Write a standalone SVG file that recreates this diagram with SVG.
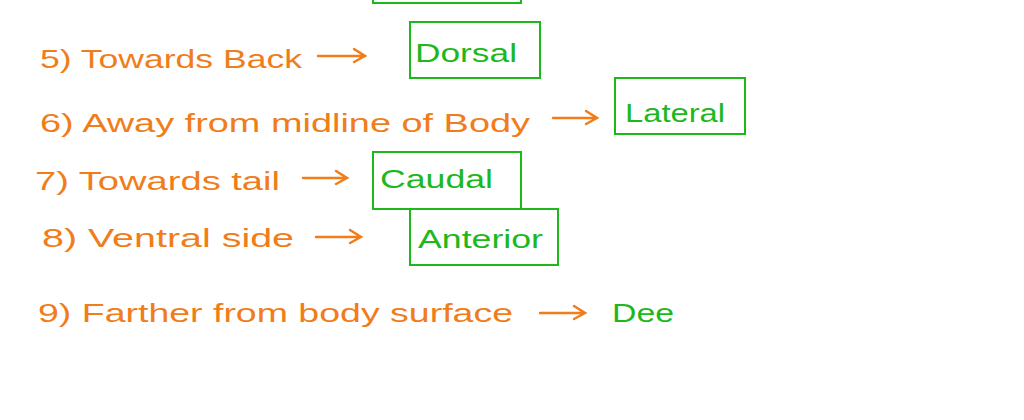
<svg xmlns="http://www.w3.org/2000/svg" width="1024" height="420" viewBox="0 0 1024 420">
<style>
.o{fill:#f07d1a;font-family:"Liberation Sans",sans-serif;font-size:26px}
.g{fill:#1cb81c;font-family:"Liberation Sans",sans-serif;font-size:26px}
.b{fill:none;stroke:#1cb81c;stroke-width:2}
.a{fill:none;stroke:#f07d1a;stroke-width:2.5;stroke-linecap:round}
</style>
<rect width="1024" height="420" fill="#fff"/>
<g id="top"><rect class="b" x="373" y="-10" width="148" height="13"/></g>
<g id="l5"><text class="o" x="40" y="68" textLength="262" lengthAdjust="spacingAndGlyphs">5) Towards Back</text></g>
<g id="dorsal"><rect class="b" x="410" y="22" width="130" height="56"/><text class="g" x="415" y="62" textLength="102" lengthAdjust="spacingAndGlyphs">Dorsal</text></g>
<g id="l6"><text class="o" x="40" y="132" textLength="490" lengthAdjust="spacingAndGlyphs">6) Away from midline of Body</text></g>
<g id="lateral"><rect class="b" x="615" y="78" width="130" height="56"/><text class="g" x="625" y="122" textLength="100" lengthAdjust="spacingAndGlyphs">Lateral</text></g>
<g id="l7"><text class="o" x="35" y="190" textLength="245" lengthAdjust="spacingAndGlyphs">7) Towards tail</text></g>
<g id="caudal"><rect class="b" x="373" y="152" width="148" height="57"/><text class="g" x="380" y="188" textLength="113" lengthAdjust="spacingAndGlyphs">Caudal</text></g>
<g id="l8"><text class="o" x="42" y="247" textLength="252" lengthAdjust="spacingAndGlyphs">8) Ventral side</text></g>
<g id="anterior"><rect class="b" x="410" y="209" width="148" height="56"/><text class="g" x="418" y="248" textLength="125" lengthAdjust="spacingAndGlyphs">Anterior</text></g>
<g id="l9"><text class="o" x="38" y="322" textLength="475" lengthAdjust="spacingAndGlyphs">9) Farther from body surface</text></g>
<g id="deep"><text class="g" x="612" y="322" textLength="62" lengthAdjust="spacingAndGlyphs">Dee</text></g>
<g id="connectors">
<path class="a" d="M318 56 H364 M354 49 L365 56 L354 62"/>
<path class="a" d="M553 118 H596 M586 111 L597 118 L586 124"/>
<path class="a" d="M303 178 H346 M336 171 L347 178 L336 184"/>
<path class="a" d="M316 237 H360 M350 230 L361 237 L350 243"/>
<path class="a" d="M540 313 H584 M574 306 L585 313 L574 319"/>
</g>
</svg>
